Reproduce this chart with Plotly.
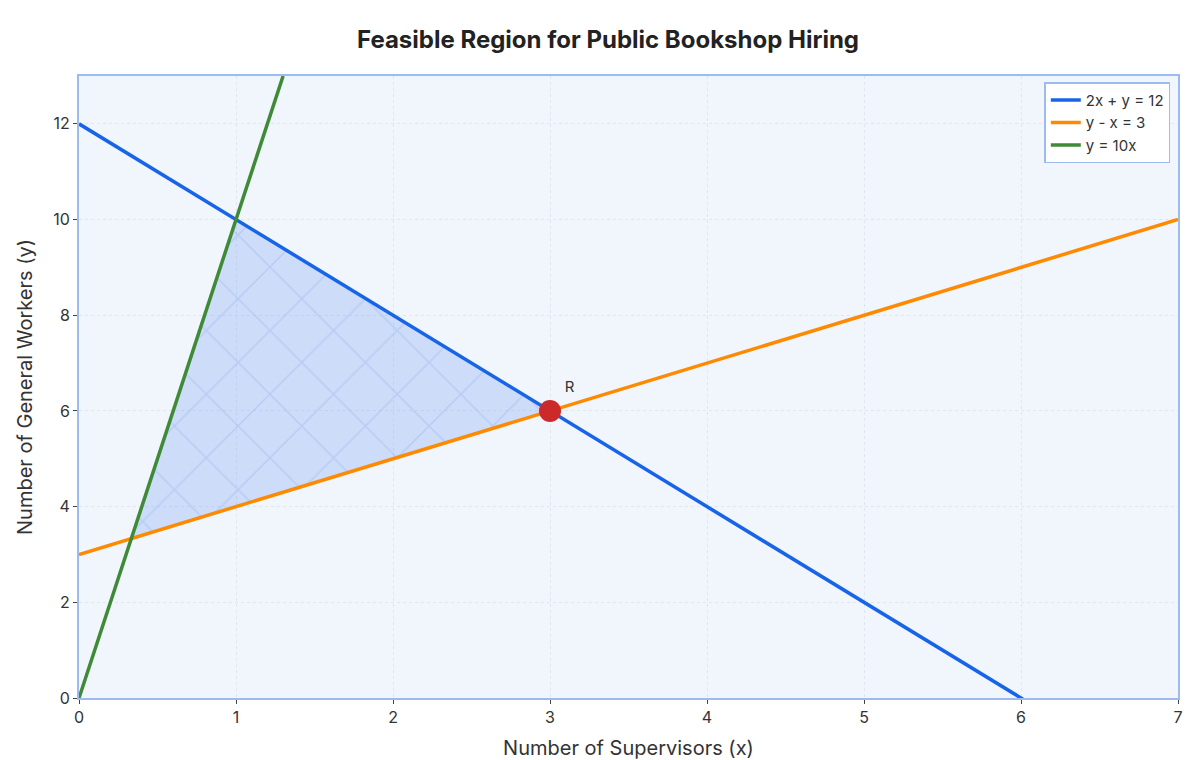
import plotly.graph_objects as go

x_line = [0, 7]
blue_y = [12, -2]
orange_y = [3, 10]
green_x = [0, 1.3]
green_y = [0, 13]
region_x = [1/3, 1, 3, 1/3]
region_y = [10/3, 10, 6, 10/3]
pt_x = [3]; pt_y = [6]; pt_label = ["R"]

fig = go.Figure()
fig.add_trace(go.Scatter(x=region_x, y=region_y, mode="lines", fill="toself",
    fillcolor="rgba(120,160,240,0.3)", line=dict(width=0),
    fillpattern=dict(shape="x", bgcolor="rgba(120,160,240,0.3)", fgcolor="rgba(140,175,240,0.7)", size=45, solidity=0.06),
    showlegend=False, hoverinfo="skip"))
fig.add_trace(go.Scatter(x=x_line, y=blue_y, mode="lines", name="2x + y = 12", line=dict(color="#1764e8", width=3.5)))
fig.add_trace(go.Scatter(x=x_line, y=orange_y, mode="lines", name="y - x = 3", line=dict(color="#ff8a00", width=3.5)))
fig.add_trace(go.Scatter(x=green_x, y=green_y, mode="lines", name="y = 10x", line=dict(color="#3f8a36", width=3.5)))
fig.add_trace(go.Scatter(x=pt_x, y=pt_y, mode="markers+text", text=pt_label, textposition="top right",
    textfont=dict(size=15, color="#333"), marker=dict(size=22, color="#cc2a2a"), showlegend=False))

fig.update_layout(
    width=1200, height=760, paper_bgcolor="white", plot_bgcolor="#f1f6fd",
    font=dict(family="Inter", size=16, color="#333"),
    title=dict(text="<b>Feasible Region for Public Bookshop Hiring</b>", x=0.5, y=0.97, font=dict(size=24, color="#222")),
    margin=dict(l=71, r=30, t=68, b=70),
    legend=dict(x=0.993, y=0.99, xanchor="right", yanchor="top", bgcolor="white",
                bordercolor="#9cbcf0", borderwidth=1.5, font=dict(size=15)),
    xaxis=dict(range=[0, 7], dtick=1, title=dict(text="Number of Supervisors (x)", font=dict(size=20)),
               showgrid=True, gridcolor="#dfe6f0", griddash="dot", zeroline=False,
               showline=True, linecolor="#9cbcf0", linewidth=2, mirror=True, ticks="outside", ticklen=4),
    yaxis=dict(range=[0, 13], dtick=2, title=dict(text="Number of General Workers (y)", font=dict(size=20)),
               showgrid=True, gridcolor="#dfe6f0", griddash="dot", zeroline=False,
               showline=True, linecolor="#9cbcf0", linewidth=2, mirror=True, ticks="outside", ticklen=4),
)
fig.write_html("out.html")
